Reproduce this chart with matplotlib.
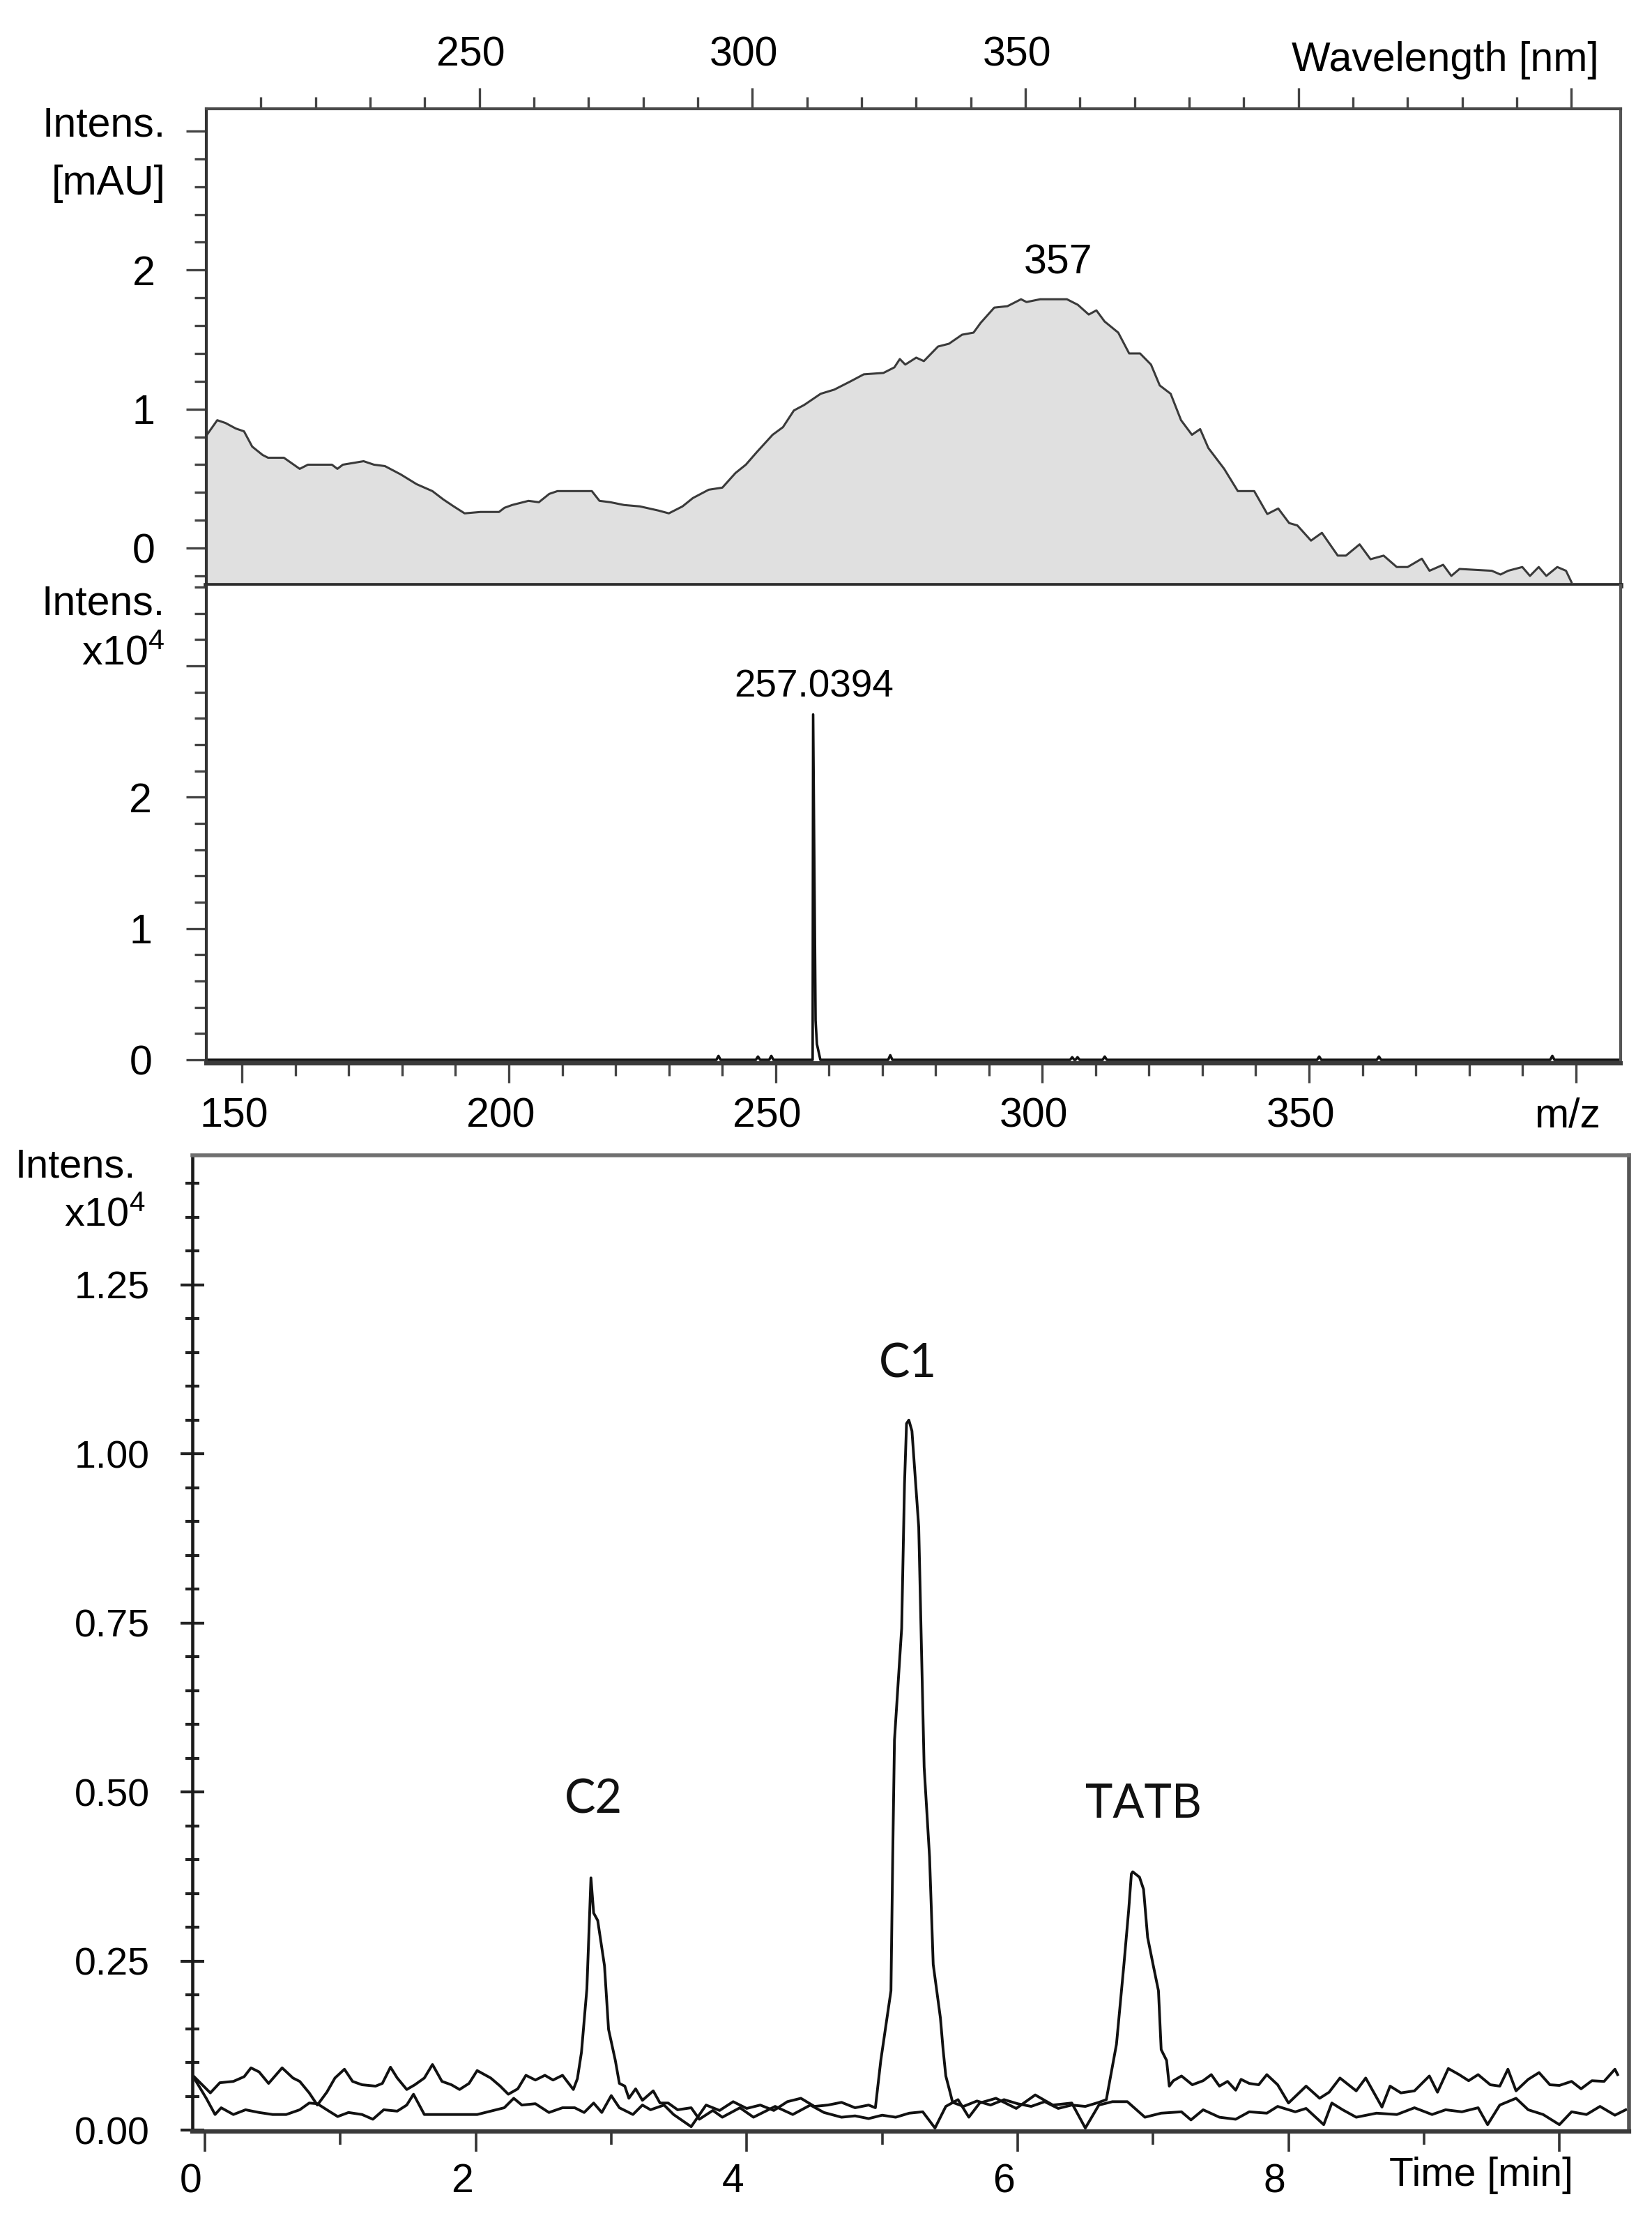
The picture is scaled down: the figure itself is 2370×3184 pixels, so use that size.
import numpy as np
import matplotlib
matplotlib.use("Agg")
import matplotlib.pyplot as plt
from matplotlib.transforms import ScaledTranslation, blended_transform_factory

plt.rcParams['font.family'] = ['Liberation Sans', 'DejaVu Sans']
plt.rcParams['mathtext.fontset'] = 'custom'
plt.rcParams['mathtext.rm'] = 'Liberation Sans'
plt.rcParams['mathtext.it'] = 'Liberation Sans:italic'
plt.rcParams['mathtext.default'] = 'regular'

# ---------------- UV spectrum (Wavelength [nm] vs Intens. [mAU]) ----------------
uv_wavelength = [200.2, 202, 203.5, 205.4, 206.9, 208.4, 210.3, 211.3, 214.2, 217.1, 218.6, 223, 224, 225,
                 228.8, 230.7, 232.7, 235.6, 238.5, 241.4, 243.4, 245.3, 247.3, 250.2, 253.6, 254.6, 256,
                 259, 260.9, 262.8, 264.3, 270.6, 272, 274, 276.5, 279.4, 282.8, 284.7, 287.2, 289.1, 292,
                 294.5, 296.9, 298.8, 300.8, 303.7, 305.6, 307.6, 309.5, 312.5, 315, 318, 320.4, 324, 326,
                 327, 328, 330, 331.4, 334, 336, 338.4, 340.5, 341.8, 344.3, 346.7, 349.2, 350.2, 352.7,
                 357.6, 359.6, 361.6, 363, 364.5, 367, 369, 371, 373, 374.6, 376.6, 378.5, 380.5, 382,
                 383.5, 386.4, 388.9, 391.9, 394.3, 396.3, 398.3, 399.8, 402.3, 404.3, 407.2, 408.7, 411.2,
                 413.2, 415.6, 418, 420, 422.6, 424, 426.5, 428, 429.5, 435.4, 437, 438.4, 441, 442.4, 444,
                 445.4, 447.4, 449, 450]
uv_intensity = [0.82, 0.92, 0.90, 0.86, 0.84, 0.73, 0.67, 0.65, 0.65, 0.57, 0.60, 0.60, 0.57, 0.60,
                0.625, 0.60, 0.59, 0.53, 0.46, 0.41, 0.35, 0.30, 0.25, 0.26, 0.26, 0.29, 0.31,
                0.34, 0.33, 0.39, 0.41, 0.41, 0.34, 0.33, 0.31, 0.30, 0.27, 0.25, 0.30, 0.36, 0.42,
                0.435, 0.54, 0.60, 0.69, 0.815, 0.87, 0.99, 1.03, 1.11, 1.14, 1.20, 1.25, 1.26, 1.30,
                1.36, 1.32, 1.37, 1.345, 1.45, 1.47, 1.535, 1.55, 1.62, 1.73, 1.74, 1.79, 1.77, 1.79,
                1.79, 1.75, 1.68, 1.71, 1.63, 1.55, 1.40, 1.40, 1.32, 1.17, 1.11, 0.92, 0.815, 0.856,
                0.72, 0.57, 0.41, 0.41, 0.245, 0.285, 0.18, 0.163, 0.054, 0.11, -0.054, -0.054, 0.027,
                -0.08, -0.054, -0.136, -0.136, -0.076, -0.163, -0.12, -0.2, -0.15, -0.163, -0.19, -0.163, -0.136, -0.2, -0.136,
                -0.2, -0.136, -0.163, -0.245]
uv_peak_label = "357"
uv_peak_pos = (356, 2.05)
uv_xticks = [250, 300, 350, 400, 450]
uv_xticklabels = ["250", "300", "350", "", ""]
uv_yticks = [0, 1, 2, 3]
uv_yticklabels = ["0", "1", "2", ""]

# ---------------- MS spectrum (m/z vs Intens. x10^4) ----------------
ms_mz = [143.3, 238.9, 239.3, 239.7, 246.3, 246.7, 247.1, 248.8, 249.2, 249.6, 256.95, 257.04, 257.5,
         257.75, 258.4, 271.1, 271.5, 271.9, 305.2, 305.6, 306.0, 306.2, 306.6, 307.0, 311.3, 311.7,
         312.1, 351.5, 351.9, 352.3, 362.7, 363.1, 363.5, 395.2, 395.6, 396.0, 408.4]
ms_intensity = [0, 0, 0.03, 0, 0, 0.025, 0, 0, 0.03, 0, 0, 2.63, 0.3,
                0.12, 0, 0, 0.035, 0, 0, 0.02, 0, 0, 0.02, 0, 0, 0.025,
                0, 0, 0.025, 0, 0, 0.025, 0, 0, 0.03, 0, 0]
ms_peak_label = "257.0394"
ms_peak_pos = (257.2, 2.84)
ms_xticks = [150, 200, 250, 300, 350, 400]
ms_xticklabels = ["150", "200", "250", "300", "350", "m/z"]
ms_yticks = [0, 1, 2, 3]
ms_yticklabels = ["0", "1", "2", ""]

# ---------------- Chromatogram (Time [min] vs Intens. x10^4) ----------------
chrom_a = [(-0.08, 0.079), (0.04, 0.055), (0.11, 0.070), (0.21, 0.072), (0.29, 0.079), (0.34, 0.092),
           (0.40, 0.086), (0.47, 0.069), (0.57, 0.092), (0.65, 0.077), (0.70, 0.072), (0.77, 0.055),
           (0.83, 0.037), (0.90, 0.056), (0.96, 0.077), (1.03, 0.090), (1.09, 0.072), (1.16, 0.067),
           (1.26, 0.065), (1.31, 0.069), (1.37, 0.093), (1.42, 0.077), (1.49, 0.060), (1.55, 0.067),
           (1.62, 0.077), (1.68, 0.097), (1.75, 0.072), (1.82, 0.067), (1.88, 0.060), (1.95, 0.069),
           (2.01, 0.088), (2.11, 0.077), (2.18, 0.065), (2.24, 0.053), (2.31, 0.061), (2.37, 0.081),
           (2.44, 0.074), (2.51, 0.081), (2.57, 0.074), (2.64, 0.081), (2.72, 0.060), (2.75, 0.076),
           (2.78, 0.115), (2.82, 0.209), (2.85, 0.373), (2.87, 0.321), (2.90, 0.310), (2.95, 0.243),
           (2.98, 0.149), (3.03, 0.103), (3.06, 0.069), (3.10, 0.065), (3.13, 0.047), (3.18, 0.061),
           (3.23, 0.044), (3.31, 0.058), (3.36, 0.040), (3.42, 0.040), (3.49, 0.030), (3.59, 0.033),
           (3.65, 0.016), (3.75, 0.029), (3.82, 0.019), (3.95, 0.033), (4.05, 0.019), (4.21, 0.035),
           (4.34, 0.023), (4.47, 0.037), (4.57, 0.026), (4.70, 0.019), (4.80, 0.021), (4.90, 0.017),
           (5.00, 0.022), (5.10, 0.019), (5.20, 0.025), (5.30, 0.027), (5.39, 0.003), (5.47, 0.035),
           (5.56, 0.045), (5.64, 0.019), (5.72, 0.040), (5.84, 0.047), (5.99, 0.032), (6.13, 0.052),
           (6.26, 0.037), (6.40, 0.040), (6.50, 0.003), (6.60, 0.037), (6.70, 0.042), (6.81, 0.042),
           (6.94, 0.019), (7.06, 0.025), (7.21, 0.027), (7.28, 0.015), (7.37, 0.030), (7.49, 0.019),
           (7.61, 0.016), (7.71, 0.027), (7.84, 0.025), (7.92, 0.035), (8.05, 0.027), (8.13, 0.032),
           (8.26, 0.008), (8.32, 0.040), (8.40, 0.030), (8.50, 0.019), (8.65, 0.025), (8.80, 0.023),
           (8.93, 0.033), (9.06, 0.023), (9.16, 0.030), (9.28, 0.027), (9.40, 0.033), (9.47, 0.008),
           (9.56, 0.037), (9.68, 0.047), (9.77, 0.030), (9.88, 0.023), (10.00, 0.008), (10.09, 0.027),
           (10.20, 0.023), (10.30, 0.035), (10.41, 0.022), (10.49, 0.030)]
chrom_b = [(-0.08, 0.077), (0.01, 0.047), (0.075, 0.023), (0.12, 0.033), (0.21, 0.023), (0.30, 0.030),
           (0.40, 0.026), (0.50, 0.023), (0.60, 0.023), (0.70, 0.030), (0.77, 0.040), (0.83, 0.039),
           (0.90, 0.030), (0.98, 0.020), (1.06, 0.026), (1.16, 0.023), (1.24, 0.016), (1.32, 0.030),
           (1.42, 0.028), (1.49, 0.037), (1.54, 0.053), (1.62, 0.023), (1.75, 0.023), (1.88, 0.023),
           (2.01, 0.023), (2.11, 0.028), (2.21, 0.033), (2.28, 0.047), (2.34, 0.037), (2.44, 0.039),
           (2.54, 0.026), (2.64, 0.033), (2.73, 0.033), (2.80, 0.026), (2.87, 0.040), (2.93, 0.026),
           (3.00, 0.051), (3.06, 0.033), (3.16, 0.023), (3.23, 0.037), (3.29, 0.030), (3.39, 0.037),
           (3.46, 0.023), (3.59, 0.005), (3.70, 0.037), (3.80, 0.029), (3.90, 0.042), (4.00, 0.032),
           (4.10, 0.037), (4.20, 0.029), (4.30, 0.042), (4.40, 0.047), (4.50, 0.035), (4.60, 0.037),
           (4.70, 0.041), (4.80, 0.033), (4.90, 0.037), (4.95, 0.033), (4.99, 0.103), (5.065, 0.206),
           (5.078, 0.404), (5.091, 0.577), (5.144, 0.742), (5.165, 0.955), (5.18, 1.045), (5.197, 1.050),
           (5.22, 1.034), (5.27, 0.892), (5.285, 0.758), (5.31, 0.537), (5.35, 0.404), (5.377, 0.245),
           (5.43, 0.166), (5.45, 0.119), (5.47, 0.080), (5.50, 0.057), (5.52, 0.041), (5.60, 0.035),
           (5.70, 0.043), (5.80, 0.037), (5.90, 0.045), (6.00, 0.039), (6.10, 0.035), (6.20, 0.042),
           (6.30, 0.032), (6.40, 0.037), (6.50, 0.035), (6.60, 0.041), (6.655, 0.045), (6.73, 0.127),
           (6.785, 0.245), (6.82, 0.325), (6.84, 0.379), (6.85, 0.382), (6.90, 0.374), (6.93, 0.356),
           (6.96, 0.285), (7.00, 0.245), (7.04, 0.206), (7.06, 0.119), (7.10, 0.103), (7.12, 0.065),
           (7.15, 0.073), (7.21, 0.080), (7.29, 0.067), (7.37, 0.073), (7.43, 0.082), (7.49, 0.065),
           (7.55, 0.072), (7.61, 0.059), (7.65, 0.075), (7.71, 0.069), (7.78, 0.067), (7.84, 0.082),
           (7.92, 0.067), (8.00, 0.040), (8.13, 0.065), (8.23, 0.047), (8.30, 0.056), (8.38, 0.077),
           (8.50, 0.058), (8.57, 0.077), (8.69, 0.034), (8.75, 0.065), (8.83, 0.055), (8.93, 0.058),
           (9.04, 0.080), (9.10, 0.056), (9.18, 0.091), (9.26, 0.082), (9.33, 0.073), (9.40, 0.082),
           (9.49, 0.067), (9.56, 0.065), (9.62, 0.090), (9.68, 0.058), (9.77, 0.075), (9.85, 0.085),
           (9.93, 0.067), (10.00, 0.066), (10.09, 0.072), (10.16, 0.061), (10.24, 0.073), (10.33, 0.072),
           (10.41, 0.090), (10.43, 0.082)]
peak_names = ["C2", "C1", "TATB"]
peak_label_pos = [(2.87, 0.488), (5.19, 1.133), (6.93, 0.482)]
chrom_xticks = [0, 2, 4, 6, 8, 10]
chrom_xticklabels = ["0", "2", "4", "6", "8", ""]
chrom_yticks = [0.0, 0.25, 0.5, 0.75, 1.0, 1.25]
chrom_yticklabels = ["0.00", "0.25", "0.50", "0.75", "1.00", "1.25"]

# ---------------- Figure ----------------
FS = 42.5
fig = plt.figure(figsize=(23.7, 31.84), dpi=100)
ax_uv = fig.add_axes([0.1249, 0.7362, 0.8561, 0.2148])
ax_ms = fig.add_axes([0.1249, 0.5210, 0.8561, 0.2152])
ax_ch = fig.add_axes([0.1165, 0.0399, 0.8695, 0.4398])

def shift_xlabels(ax, dx_px):
    for lab in ax.get_xticklabels():
        lab.set_transform(lab.get_transform() + ScaledTranslation(dx_px / 100.0, 0, fig.dpi_scale_trans))

# UV panel
ax_uv.fill_between(uv_wavelength, uv_intensity, -0.27, color='#e0e0e0', linewidth=0)
ax_uv.plot(uv_wavelength, uv_intensity, color='#3a3a3a', lw=2.2)
ax_uv.set_xlim(200, 459)
ax_uv.set_ylim(-0.27, 3.16)
ax_uv.xaxis.tick_top()
ax_uv.set_xticks(uv_xticks)
ax_uv.set_xticklabels(uv_xticklabels)
ax_uv.set_xticks(np.arange(210, 451, 10), minor=True)
ax_uv.set_yticks(uv_yticks)
ax_uv.set_yticklabels(uv_yticklabels)
ax_uv.set_yticks(np.arange(-0.2, 3.01, 0.2), minor=True)
ax_uv.tick_params(axis='x', which='major', direction='out', length=21.5, width=2.4, color='#444444',
                  pad=14, labelsize=FS)
ax_uv.tick_params(axis='x', which='minor', direction='out', length=12, width=2.4, color='#444444')
ax_uv.tick_params(axis='y', which='major', direction='out', length=21, width=2.4, color='#444444',
                  pad=32, labelsize=FS)
ax_uv.tick_params(axis='y', which='minor', direction='out', length=12.5, width=2.4, color='#444444')
shift_xlabels(ax_uv, -12)
ax_uv.spines['top'].set_linewidth(3)
ax_uv.spines['top'].set_color('#4a4a4a')
ax_uv.spines['left'].set_linewidth(3)
ax_uv.spines['left'].set_color('#333333')
ax_uv.spines['right'].set_linewidth(3)
ax_uv.spines['right'].set_color('#555555')
ax_uv.spines['bottom'].set_linewidth(5.5)
ax_uv.spines['bottom'].set_color('#2a2a2a')
ax_uv.text(uv_peak_pos[0], uv_peak_pos[1], uv_peak_label, ha='center', va='center', fontsize=FS)
ax_uv.text(455, 1.101, "Wavelength [nm]", ha='right', va='center', fontsize=FS,
           transform=blended_transform_factory(ax_uv.transData, ax_uv.transAxes))
ty = ax_uv.get_yaxis_transform()
ax_uv.text(-0.029, 3.04, "Intens.", ha='right', va='center', fontsize=FS, transform=ty)
ax_uv.text(-0.029, 2.62, "[mAU]", ha='right', va='center', fontsize=FS, transform=ty)

# MS panel
ax_ms.plot(ms_mz, ms_intensity, color='#111111', lw=2.6)
ax_ms.set_xlim(143.3, 408.4)
ax_ms.set_ylim(-0.027, 3.611)
ax_ms.set_xticks(ms_xticks)
ax_ms.set_xticklabels(ms_xticklabels)
ax_ms.set_xticks(np.arange(160, 400, 10), minor=True)
ax_ms.set_yticks(ms_yticks)
ax_ms.set_yticklabels(ms_yticklabels)
ax_ms.set_yticks(np.arange(0.2, 3.61, 0.2), minor=True)
ax_ms.tick_params(axis='x', which='major', direction='out', length=20, width=2.4, color='#444444',
                  pad=14.5, labelsize=FS)
ax_ms.tick_params(axis='x', which='minor', direction='out', length=13, width=2.4, color='#444444')
ax_ms.tick_params(axis='y', which='major', direction='out', length=21, width=2.4, color='#444444',
                  pad=35, labelsize=FS)
ax_ms.tick_params(axis='y', which='minor', direction='out', length=12.5, width=2.4, color='#444444')
shift_xlabels(ax_ms, -12)
ax_ms.spines['top'].set_visible(False)
ax_ms.spines['left'].set_linewidth(3)
ax_ms.spines['left'].set_color('#333333')
ax_ms.spines['right'].set_linewidth(3)
ax_ms.spines['right'].set_color('#555555')
ax_ms.spines['bottom'].set_linewidth(4.4)
ax_ms.spines['bottom'].set_color('#3a3a3a')
ax_ms.text(ms_peak_pos[0], ms_peak_pos[1], ms_peak_label, ha='center', va='center', fontsize=39.5)
ty = ax_ms.get_yaxis_transform()
ax_ms.text(-0.0293, 3.47, "Intens.", ha='right', va='center', fontsize=FS, transform=ty)
ax_ms.text(-0.0293, 3.09, "x10$^{4}$", ha='right', va='center', fontsize=FS, transform=ty)

# Chromatogram panel
ta, ia = zip(*chrom_a)
tb, ib = zip(*chrom_b)
ax_ch.plot(ta, ia, color='#111111', lw=2.8)
ax_ch.plot(tb, ib, color='#111111', lw=2.8)
ax_ch.set_xlim(-0.092, 10.513)
ax_ch.set_ylim(-0.002, 1.442)
ax_ch.set_xticks(chrom_xticks)
ax_ch.set_xticklabels(chrom_xticklabels)
ax_ch.set_xticks([1, 3, 5, 7, 9], minor=True)
ax_ch.set_yticks(chrom_yticks)
ax_ch.set_yticklabels(chrom_yticklabels)
ax_ch.set_yticks(np.arange(0.05, 1.41, 0.05), minor=True)
ax_ch.tick_params(axis='x', which='major', direction='out', length=21, width=2.6, color='#333333',
                  pad=11.5, labelsize=41)
ax_ch.tick_params(axis='x', which='minor', direction='out', length=13.5, width=2.6, color='#333333')
ax_ch.tick_params(axis='y', which='major', direction='inout', length=24, width=3, color='#222222',
                  pad=32, labelsize=40)
ax_ch.tick_params(axis='y', which='minor', direction='inout', length=14, width=3, color='#222222')
shift_xlabels(ax_ch, -20)
ax_ch.spines['left'].set_linewidth(3.3)
ax_ch.spines['left'].set_color('#1a1a1a')
ax_ch.spines['bottom'].set_linewidth(4.5)
ax_ch.spines['bottom'].set_color('#3a3a3a')
ax_ch.spines['top'].set_linewidth(4)
ax_ch.spines['top'].set_color('#707070')
ax_ch.spines['right'].set_linewidth(4)
ax_ch.spines['right'].set_color('#555555')
for name, (px, py) in zip(peak_names, peak_label_pos):
    ax_ch.text(px, py, name, ha='center', va='center', fontsize=48,
               family=['Lato', 'DejaVu Sans'], color='#111111')
ty = ax_ch.get_yaxis_transform()
ax_ch.text(-0.0393, 1.425, "Intens.", ha='right', va='center', fontsize=41.5, transform=ty)
ax_ch.text(-0.0327, 1.353, "x10$^{4}$", ha='right', va='center', fontsize=41.5, transform=ty)
ax_ch.text(10.1, -0.045, "Time [min]", ha='right', va='center', fontsize=41,
           transform=blended_transform_factory(ax_ch.transData, ax_ch.transAxes))

fig.savefig("out.png", dpi=100, facecolor='white')
